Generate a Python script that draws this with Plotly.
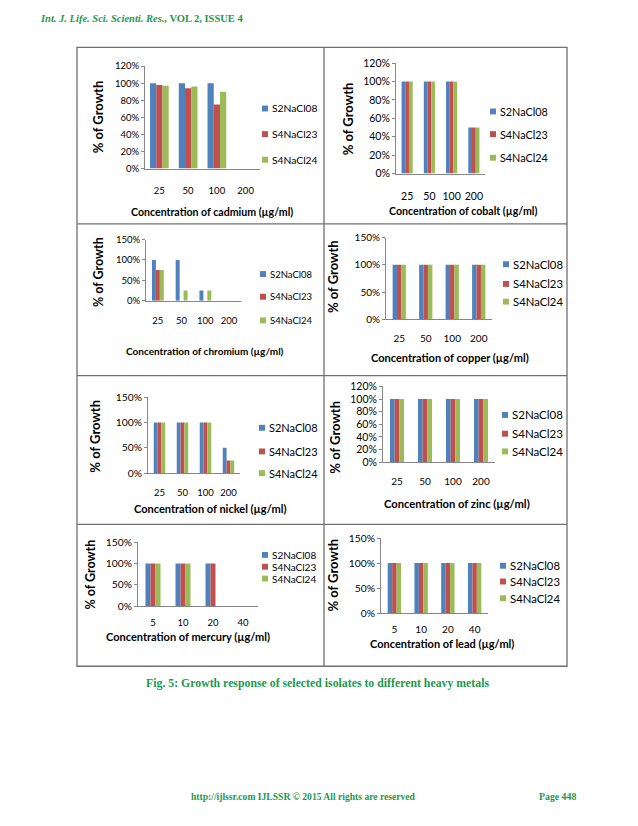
import plotly.graph_objects as go

# ---------------- data ----------------
series_names = ["S2NaCl08", "S4NaCl23", "S4NaCl24"]
series_colors = ["#4F81BD", "#C0504D", "#9BBB59"]

conc_high = ["25", "50", "100", "200"]
conc_low = ["5", "10", "20", "40"]

cadmium_S2NaCl08 = [100, 100, 100, 0]
cadmium_S4NaCl23 = [98, 94, 75, 0]
cadmium_S4NaCl24 = [97, 96, 90, 0]

cobalt_S2NaCl08 = [100, 100, 100, 50]
cobalt_S4NaCl23 = [100, 100, 100, 50]
cobalt_S4NaCl24 = [100, 100, 100, 50]

chromium_S2NaCl08 = [100, 100, 25, 0]
chromium_S4NaCl23 = [75, 0, 0, 0]
chromium_S4NaCl24 = [75, 25, 25, 0]

copper_S2NaCl08 = [100, 100, 100, 100]
copper_S4NaCl23 = [100, 100, 100, 100]
copper_S4NaCl24 = [100, 100, 100, 100]

nickel_S2NaCl08 = [100, 100, 100, 50]
nickel_S4NaCl23 = [100, 100, 100, 25]
nickel_S4NaCl24 = [100, 100, 100, 25]

zinc_S2NaCl08 = [100, 100, 100, 100]
zinc_S4NaCl23 = [100, 100, 100, 100]
zinc_S4NaCl24 = [100, 100, 100, 100]

mercury_S2NaCl08 = [100, 100, 100, 0]
mercury_S4NaCl23 = [100, 100, 100, 0]
mercury_S4NaCl24 = [100, 100, 0, 0]

lead_S2NaCl08 = [100, 100, 100, 100]
lead_S4NaCl23 = [100, 100, 100, 100]
lead_S4NaCl24 = [100, 100, 100, 100]

x_titles = {
    "cadmium": "Concentration of cadmium (\u00b5g/ml)",
    "cobalt": "Concentration of cobalt (\u00b5g/ml)",
    "chromium": "Concentration of chromium (\u00b5g/ml)",
    "copper": "Concentration of copper (\u00b5g/ml)",
    "nickel": "Concentration of nickel (\u00b5g/ml)",
    "zinc": "Concentration of zinc (\u00b5g/ml)",
    "mercury": "Concentration of mercury (\u00b5g/ml)",
    "lead": "Concentration of lead (\u00b5g/ml)",
}
y_title = "% of Growth"

header_italic = "Int. J. Life. Sci. Scienti. Res.,"
header_plain = " VOL 2, ISSUE 4"
caption = "Fig. 5: Growth response of selected isolates to different heavy metals"
footer_left = "http://ijlssr.com IJLSSR \u00a9 2015 All rights are reserved"
footer_right = "Page 448"

# ---------------- layout specs (pixels) ----------------
panels = [
    dict(key="cadmium", cats=conc_high, vals=[cadmium_S2NaCl08, cadmium_S4NaCl23, cadmium_S4NaCl24],
         ymax=120, dtick=20, x0=145, x1=260, ytop=61, ybot=165, group=0.65,
         tfs=9.5, xfs=9.5, xlen=13, tx=212, ty=209, tsz=10.6, yx=98, yy=113, ysz=13,
         lsx=262, ltx=270, lys=[104, 130, 156], lsz=10.3),
    dict(key="cobalt", cats=conc_high, vals=[cobalt_S2NaCl08, cobalt_S4NaCl23, cobalt_S4NaCl24],
         ymax=120, dtick=20, x0=396, x1=485, ytop=58, ybot=170, group=0.5,
         tfs=10.5, xfs=10.5, xlen=13, tx=463, ty=208, tsz=10.6, yx=348, yy=115, ysz=13,
         lsx=490, ltx=498, lys=[107, 130, 154], lsz=10.8),
    dict(key="chromium", cats=conc_high, vals=[chromium_S2NaCl08, chromium_S4NaCl23, chromium_S4NaCl24],
         ymax=150, dtick=50, x0=146, x1=241, ytop=237, ybot=299, group=0.5,
         tfs=9.5, xfs=9.5, xlen=11, tx=205, ty=350, tsz=10, yx=98, yy=270, ysz=12.5,
         lsx=260, ltx=268, lys=[272, 295, 319], lsz=9.5),
    dict(key="copper", cats=conc_high, vals=[copper_S2NaCl08, copper_S4NaCl23, copper_S4NaCl24],
         ymax=150, dtick=50, x0=386, x1=492, ytop=235, ybot=318, group=0.5,
         tfs=10, xfs=10, xlen=10, tx=450, ty=357, tsz=11, yx=333, yy=275, ysz=13,
         lsx=503, ltx=511, lys=[262, 282, 300], lsz=11.3),
    dict(key="nickel", cats=conc_high, vals=[nickel_S2NaCl08, nickel_S4NaCl23, nickel_S4NaCl24],
         ymax=150, dtick=50, x0=148, x1=240, ytop=397, ybot=474, group=0.5,
         tfs=10.3, xfs=9.5, xlen=10, tx=210, ty=510, tsz=11, yx=95, yy=437, ysz=13,
         lsx=259, ltx=267, lys=[428, 452, 474], lsz=11),
    dict(key="zinc", cats=conc_high, vals=[zinc_S2NaCl08, zinc_S4NaCl23, zinc_S4NaCl24],
         ymax=120, dtick=20, x0=383, x1=495, ytop=386, ybot=463, group=0.5,
         tfs=10.5, xfs=10, xlen=10, tx=457, ty=505, tsz=11.2, yx=335, yy=438, ysz=13,
         lsx=502, ltx=510, lys=[415, 434, 452], lsz=11.5),
    dict(key="mercury", cats=conc_low, vals=[mercury_S2NaCl08, mercury_S4NaCl23, mercury_S4NaCl24],
         ymax=150, dtick=50, x0=138, x1=258, ytop=544, ybot=609, group=0.5,
         tfs=10.3, xfs=9.5, xlen=7, tx=188, ty=640, tsz=11, yx=91, yy=577, ysz=12.5,
         lsx=262, ltx=270, lys=[557, 569, 581], lsz=10),
    dict(key="lead", cats=conc_low, vals=[lead_S2NaCl08, lead_S4NaCl23, lead_S4NaCl24],
         ymax=150, dtick=50, x0=381, x1=488, ytop=540, ybot=616, group=0.5,
         tfs=10.3, xfs=10, xlen=7, tx=442, ty=647, tsz=11, yx=333, yy=578, ysz=13,
         lsx=500, ltx=508, lys=[568, 584, 601], lsz=11.3),
]

W, H = 638, 826
FONT = "Lato"
AXIS = "#868686"
GREEN = "#1b9a4e"


def fx(x):
    return x / W


def fy(y):
    return 1 - y / H


fig = go.Figure()
layout = dict(width=W, height=H, margin=dict(l=0, r=0, t=0, b=0),
              paper_bgcolor="white", plot_bgcolor="white", barmode="overlay",
              showlegend=False, font=dict(family=FONT, color="#000000"))
annotations = []
shapes = []

for i, p in enumerate(panels, start=1):
    xa = "x" if i == 1 else f"x{i}"
    ya = "y" if i == 1 else f"y{i}"
    g = p["group"]
    w = g / 3
    for k, (name, vals) in enumerate(zip(series_names, p["vals"])):
        fig.add_trace(go.Bar(
            x=p["cats"], y=vals, name=name, xaxis=xa, yaxis=ya,
            width=w, offset=-g / 2 + k * w,
            marker=dict(color=series_colors[k], line=dict(width=0)),
            showlegend=False,
        ))
    layout["xaxis" if i == 1 else f"xaxis{i}"] = dict(
        domain=[fx(p["x0"]), fx(p["x1"])], anchor=ya, type="category",
        range=[-0.5, 3.5], showline=True, linecolor=AXIS, linewidth=1,
        ticks="outside", ticklen=p["xlen"], tickcolor="rgba(0,0,0,0)",
        tickfont=dict(family=FONT, size=p["xfs"], color="#000"),
        showgrid=False, zeroline=False, fixedrange=True,
    )
    layout["yaxis" if i == 1 else f"yaxis{i}"] = dict(
        domain=[fy(p["ybot"]), fy(p["ytop"])], anchor=xa,
        range=[0, p["ymax"]], dtick=p["dtick"], tick0=0, ticksuffix="%",
        showline=True, linecolor=AXIS, linewidth=1,
        ticks="outside", ticklen=3, tickcolor=AXIS,
        tickfont=dict(family=FONT, size=p["tfs"], color="#000"),
        showgrid=False, zeroline=False, fixedrange=True,
    )
    # axis titles
    annotations.append(dict(
        text="<b>" + x_titles[p["key"]] + "</b>", x=fx(p["tx"]), y=fy(p["ty"]),
        xref="paper", yref="paper", xanchor="center", yanchor="middle",
        showarrow=False, font=dict(family=FONT, size=p["tsz"], color="#000")))
    annotations.append(dict(
        text="<b>" + y_title + "</b>", x=fx(p["yx"]), y=fy(p["yy"]),
        xref="paper", yref="paper", xanchor="center", yanchor="middle",
        textangle=-90, showarrow=False,
        font=dict(family=FONT, size=p["ysz"], color="#000")))
    # legend
    for k, name in enumerate(series_names):
        ry = p["lys"][k]
        shapes.append(dict(type="rect", xref="paper", yref="paper",
                           x0=fx(p["lsx"]), x1=fx(p["lsx"] + 6),
                           y0=fy(ry + 3), y1=fy(ry - 3),
                           fillcolor=series_colors[k], line=dict(width=0)))
        annotations.append(dict(
            text=name, x=fx(p["ltx"]), y=fy(ry), xref="paper", yref="paper",
            xanchor="left", yanchor="middle", showarrow=False,
            font=dict(family=FONT, size=p["lsz"], color="#000")))

# table borders
BORDER = "#707070"
LEFT, RIGHT, TOP, BOTTOM, MID = 77, 567, 42, 670, 324
shapes.append(dict(type="rect", xref="paper", yref="paper",
                   x0=fx(LEFT), x1=fx(RIGHT), y0=fy(BOTTOM), y1=fy(TOP),
                   line=dict(color=BORDER, width=1.3), fillcolor="rgba(0,0,0,0)"))
shapes.append(dict(type="line", xref="paper", yref="paper",
                   x0=fx(MID), x1=fx(MID), y0=fy(BOTTOM), y1=fy(TOP),
                   line=dict(color=BORDER, width=1.3)))
for ry in [221, 375, 526]:
    shapes.append(dict(type="line", xref="paper", yref="paper",
                       x0=fx(LEFT), x1=fx(RIGHT), y0=fy(ry), y1=fy(ry),
                       line=dict(color=BORDER, width=1.3)))

SERIF = "Liberation Serif"
annotations.append(dict(
    text="<b><i>" + header_italic + "</i>" + header_plain + "</b>",
    x=fx(38), y=fy(13), xref="paper", yref="paper", xanchor="left", yanchor="middle",
    showarrow=False, font=dict(family=SERIF, size=10.5, color=GREEN)))
annotations.append(dict(
    text="<b>" + caption + "</b>", x=fx(317), y=fy(687), xref="paper", yref="paper",
    xanchor="center", yanchor="middle", showarrow=False,
    font=dict(family=SERIF, size=11.8, color=GREEN)))
annotations.append(dict(
    text="<b>" + footer_left + "</b>", x=fx(189), y=fy(802), xref="paper", yref="paper",
    xanchor="left", yanchor="middle", showarrow=False,
    font=dict(family=SERIF, size=9.6, color=GREEN)))
annotations.append(dict(
    text="<b>" + footer_right + "</b>", x=fx(537), y=fy(802), xref="paper", yref="paper",
    xanchor="left", yanchor="middle", showarrow=False,
    font=dict(family=SERIF, size=9.8, color=GREEN)))

layout["annotations"] = annotations
layout["shapes"] = shapes
fig.update_layout(**layout)

fig.write_html(
    "out.html",
    config={"displayModeBar": False},
    post_script="document.body.style.margin='0';document.body.style.padding='0';",
)
